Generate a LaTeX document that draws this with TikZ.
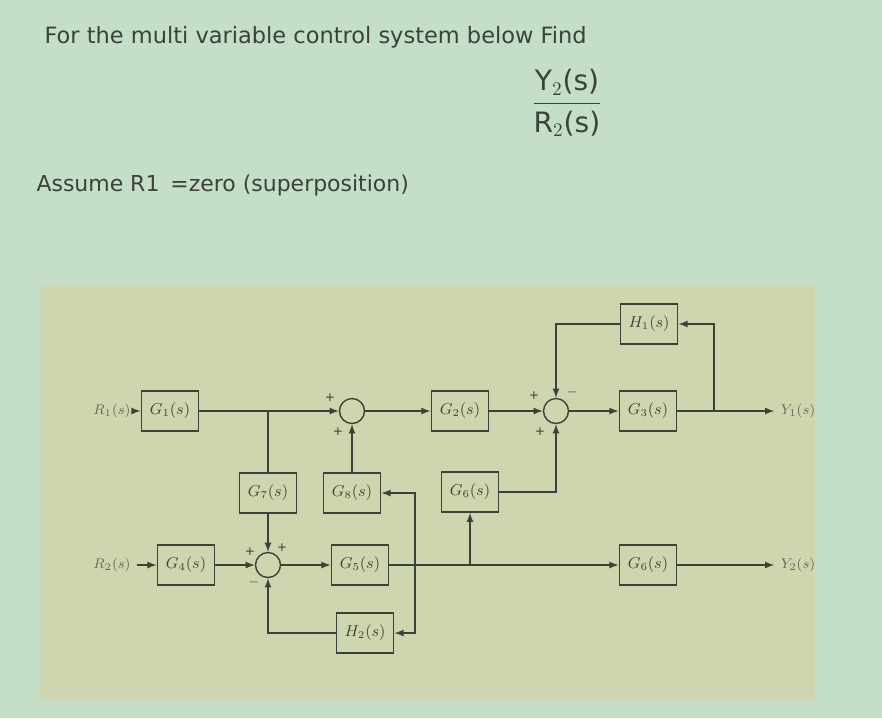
\documentclass[tikz,border=0pt]{standalone}
\usepackage{fontspec}
\setmainfont{DejaVu Sans}
\usetikzlibrary{positioning, arrows}
\definecolor{screen}{RGB}{196,222,200}
\definecolor{panel}{RGB}{206,214,176}
\definecolor{ink}{RGB}{60,66,58}

\begin{document}
\begin{tikzpicture}[
    x = 0.02cm,
    y = -0.02cm,
    > = latex,
    thick,
    draw = ink,
    block/.style = {rectangle, draw = ink, thick, minimum width = 1.15cm, minimum height = 0.8cm, font = \small\itshape, text = ink},
    sum/.style = {circle, draw = ink, thick, minimum size = 0.5cm, inner sep = 0pt},
    sig/.style = {font = \footnotesize\itshape, text = ink!80},
    sign/.style = {font = \scriptsize, text = ink}
]

% Background
\fill[screen] (0,0) rectangle (882,718);
\fill[panel] (40,285) rectangle (815,700);
\useasboundingbox (0,0) rectangle (882,718);

% Texts
\node[anchor = west, font = \fontsize{12.8}{15}\selectfont, text = ink] (title) at (38,37) {For the multi variable control system below Find};
\node[font = \fontsize{16}{19}\selectfont, text = ink] (frac) at (567,103) {$\displaystyle\frac{\mbox{Y$_2$(s)}}{\mbox{R$_2$(s)}}$};
\node[anchor = west, font = \fontsize{12.5}{15}\selectfont, text = ink] (assume) at (30,185) {Assume R1\enspace =zero (superposition)};

% Blocks
\node[block] (G1) at (170,411) {$G_1(s)$};
\node[block] (G7) at (268,493) {$G_7(s)$};
\node[block] (G8) at (352,493) {$G_8(s)$};
\node[block] (G2) at (460,411) {$G_2(s)$};
\node[block] (H1) at (649,324) {$H_1(s)$};
\node[block] (G3) at (648,411) {$G_3(s)$};
\node[block] (Gm) at (470,492) {$G_6(s)$};
\node[block] (G4) at (186,565) {$G_4(s)$};
\node[block] (G5) at (360,565) {$G_5(s)$};
\node[block] (G6) at (648,565) {$G_6(s)$};
\node[block] (H2) at (365,633) {$H_2(s)$};

% Summing junctions
\node[sum] (s1) at (352,411) {};
\node[sum] (s2) at (556,411) {};
\node[sum] (s3) at (268,565) {};

% Signals
\node[sig] (R1) at (112,411) {$R_1(s)$};
\node[sig] (R2) at (112,565) {$R_2(s)$};
\node[sig] (Y1) at (798,411) {$Y_1(s)$};
\node[sig] (Y2) at (798,565) {$Y_2(s)$};

% Branch points
\coordinate (b1) at (268,411);
\coordinate (ba) at (415,565);
\coordinate (bb) at (470,565);
\coordinate (by) at (714,411);

\draw[->] (R1) -- (G1);
\draw (G1) -- (b1);
\draw[->] (b1) -- (s1);
\draw (b1) -- (G7);
\draw[->] (G7) -- (s3);
\draw[->] (G8) -- (s1);
\draw[->] (s1) -- (G2);
\draw[->] (G2) -- (s2);
\draw[->] (s2) -- (G3);
\draw (G3) -- (by);
\draw[->] (by) -- (Y1);
\draw[->] (by) |- (H1);
\draw[->] (H1) -| (s2);
\draw[->] (Gm) -| (s2);

\draw[->] (R2) -- (G4);
\draw[->] (G4) -- (s3);
\draw[->] (s3) -- (G5);
\draw (G5) -- (ba);
\draw (ba) -- (bb);
\draw[->] (bb) -- (G6);
\draw[->] (bb) -- (Gm);
\draw[->] (G6) -- (Y2);
\draw[->] (ba) |- (G8);
\draw[->] (ba) |- (H2);
\draw[->] (H2) -| (s3);

% Signs
\node[sign] at (330,398) {+};
\node[sign] at (338,432) {+};
\node[sign] at (534,396) {+};
\node[sign] at (572,392) {$-$};
\node[sign] at (540,432) {+};
\node[sign] at (250,552) {+};
\node[sign] at (282,548) {+};
\node[sign] at (254,582) {$-$};

\end{tikzpicture}
\end{document}
